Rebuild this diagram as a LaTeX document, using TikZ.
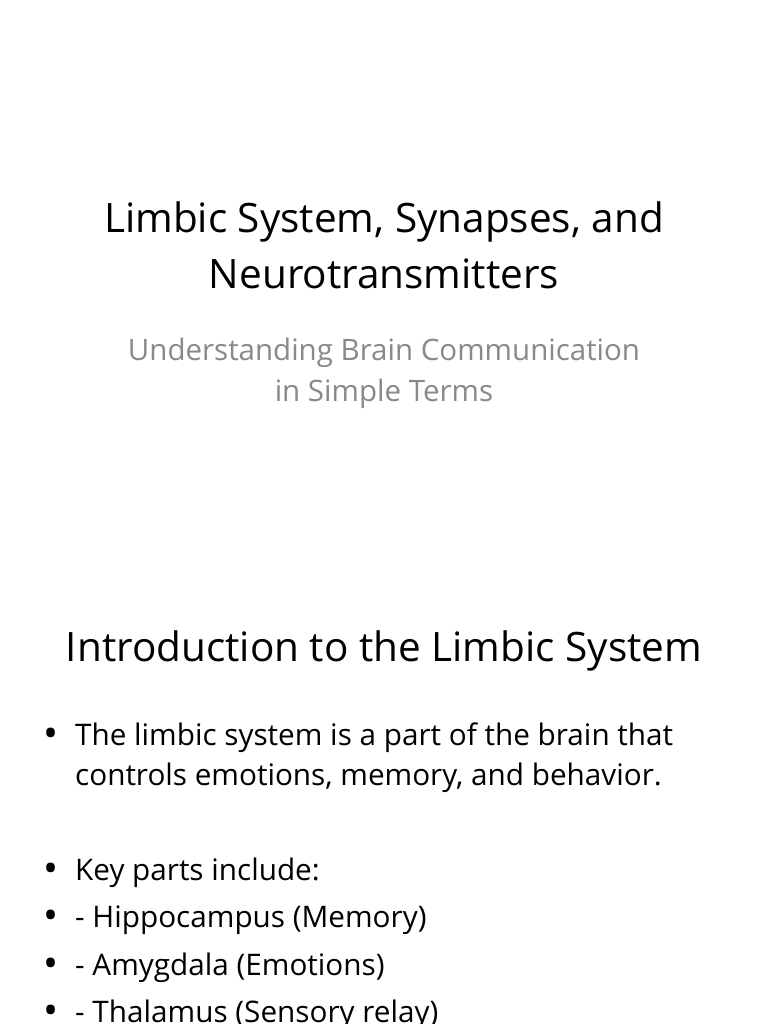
\documentclass[tikz,border=0pt]{standalone}
\usepackage{fontspec}
\setmainfont{Open Sans}
\definecolor{subgrey}{RGB}{137,137,137}
\begin{document}
\begin{tikzpicture}[x=1pt,y=-1pt,
  title/.style={font=\fontsize{40.5}{56}\selectfont,align=center,anchor=center},
  sub/.style={font=\fontsize{29.5}{41}\selectfont,text=subgrey,align=center,anchor=center},
  bul/.style={font=\fontsize{29.7}{40}\selectfont,anchor=west,inner sep=0},
  dot/.style={font=\fontsize{40}{40}\selectfont,anchor=center,inner sep=0}]
\clip (0,0) rectangle (768,1024);
\fill[white] (0,0) rectangle (768,1024);
\node[title] (t1) at (384,245) {Limbic System, Synapses, and\\Neurotransmitters};
\node[sub] (s1) at (384,373) {Understanding Brain Communication\\in Simple Terms};
\node[title] (t2) at (384,651) {Introduction to the Limbic System};
\foreach \y/\t in {738/The limbic system is a part of the brain that,873/Key parts include:,920/- Hippocampus (Memory),968/- Amygdala (Emotions),1015/- Thalamus (Sensory relay)}{
  \node[dot] at (51,\y) {•};
  \node[bul] at (75,\y) {\t};
}
\node[bul] (l2) at (75,778) {controls emotions, memory, and behavior.};
\end{tikzpicture}
\end{document}
